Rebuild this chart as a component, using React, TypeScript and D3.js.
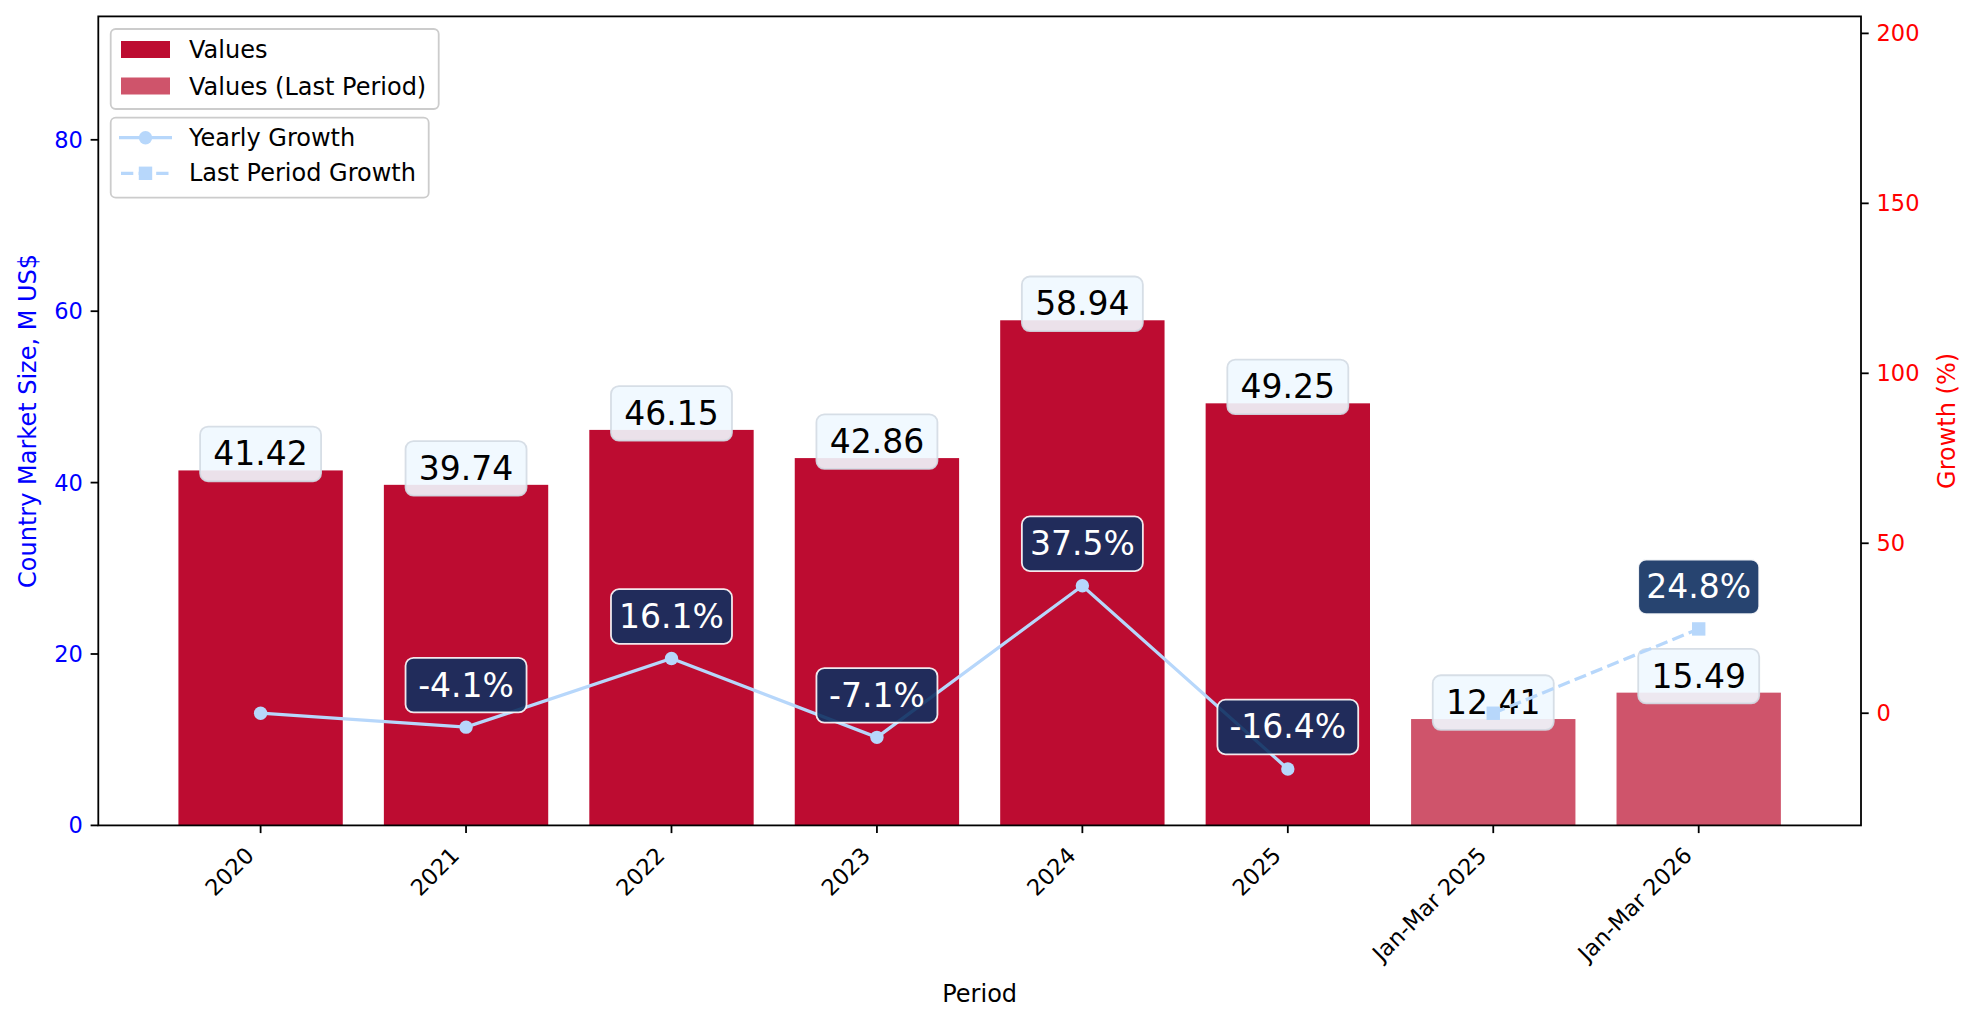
import * as d3 from "d3";

const periods = ["2020", "2021", "2022", "2023", "2024", "2025", "Jan-Mar 2025", "Jan-Mar 2026"];
const marketValues = [41.42, 39.74, 46.15, 42.86, 58.94, 49.25, 12.41, 15.49];
const isLastPeriod = [false, false, false, false, false, false, true, true];
const yearlyGrowth = [0, -4.1, 16.1, -7.1, 37.5, -16.4];
const lastPeriodGrowth = [0, 24.8];
const leftTicks = [0, 20, 40, 60, 80];
const rightTicks = [0, 50, 100, 150, 200];

const W = 1976;
const H = 1025;
const margin = { left: 98.3, right: 1861, top: 16.4, bottom: 825.4 };
const FONT = "DejaVu Sans, sans-serif";

const barColor = "#bd0c31";
const lastBarColor = "#cf546b";
const lineColor = "#b7d7fb";
const growthFill = "#0f3060";
const tickLen = 7.7;
const tickFs = 22.5;
const labelFs = 24;

export default function App() {
  const x = d3
    .scaleLinear()
    .domain([-0.79, periods.length - 1 + 0.79])
    .range([margin.left, margin.right]);
  const yL = d3.scaleLinear().domain([0, 94.4]).range([margin.bottom, margin.top]);
  const yR = d3.scaleLinear().domain([-33, 205]).range([margin.bottom, margin.top]);
  const bw = x(0.4) - x(-0.4);

  const yearlyPts: [number, number][] = yearlyGrowth.map((g, i) => [x(i), yR(g)]);
  const lastPts: [number, number][] = lastPeriodGrowth.map((g, i) => [x(6 + i), yR(g)]);
  const line = d3.line();

  const valueFs = 33;
  const labelBox = (
    cx: number,
    cy: number,
    txt: string,
    fill: string,
    stroke: string,
    color: string,
    key: string,
  ) => {
    const w = txt.length * valueFs * 0.6 + 22;
    const h = valueFs * 1.17 + 16;
    return (
      <g key={key}>
        <rect
          x={cx - w / 2}
          y={cy - h / 2}
          width={w}
          height={h}
          rx={8}
          fill={fill}
          fillOpacity={0.9}
          stroke={stroke}
          strokeOpacity={0.9}
          strokeWidth={1.8}
        />
        <text x={cx} y={cy} textAnchor="middle" dominantBaseline="central" fontSize={valueFs} fill={color}>
          {txt}
        </text>
      </g>
    );
  };

  return (
    <svg width={W} height={H} style={{ position: "absolute", left: 0, top: 0, background: "#fff" }} fontFamily={FONT}>
      {/* bars */}
      {marketValues.map((v, i) => (
        <rect
          key={periods[i]}
          x={x(i) - bw / 2}
          y={yL(v)}
          width={bw}
          height={yL(0) - yL(v)}
          fill={isLastPeriod[i] ? lastBarColor : barColor}
        />
      ))}

      {/* value labels */}
      {marketValues.map((v, i) => labelBox(x(i), yL(v) - 16.5, v.toFixed(2), "#f0f8ff", "#d3dae3", "#000", "v" + i))}

      {/* growth lines */}
      <path d={line(yearlyPts) ?? ""} fill="none" stroke={lineColor} strokeWidth={3.3} />
      {yearlyPts.map(([px, py], i) => (
        <circle key={"c" + i} cx={px} cy={py} r={6.7} fill={lineColor} />
      ))}
      <path d={line(lastPts) ?? ""} fill="none" stroke={lineColor} strokeWidth={3.3} strokeDasharray="12.3 5.3" />
      {lastPts.map(([px, py], i) => (
        <rect key={"s" + i} x={px - 6.7} y={py - 6.7} width={13.4} height={13.4} fill={lineColor} />
      ))}

      {/* growth labels */}
      {yearlyGrowth.map((g, i) =>
        i === 0 ? null : labelBox(x(i), yR(g) - 42, g.toFixed(1) + "%", growthFill, "#ffffff", "#fff", "g" + i),
      )}
      {lastPeriodGrowth.map((g, i) =>
        i === 0 ? null : labelBox(x(6 + i), yR(g) - 42, g.toFixed(1) + "%", growthFill, "#ffffff", "#fff", "lg" + i),
      )}

      {/* frame */}
      <rect
        x={margin.left}
        y={margin.top}
        width={margin.right - margin.left}
        height={margin.bottom - margin.top}
        fill="none"
        stroke="#000"
        strokeWidth={1.8}
      />

      {/* left axis */}
      {leftTicks.map((t) => (
        <g key={"l" + t}>
          <line x1={margin.left - tickLen} x2={margin.left} y1={yL(t)} y2={yL(t)} stroke="#000" strokeWidth={1.8} />
          <text x={margin.left - tickLen - 7.8} y={yL(t)} textAnchor="end" dominantBaseline="central" fontSize={tickFs} fill="#0000ff">
            {t}
          </text>
        </g>
      ))}
      <text
        transform={`translate(28,${(margin.top + margin.bottom) / 2}) rotate(-90)`}
        textAnchor="middle"
        dominantBaseline="central"
        fontSize={labelFs}
        fill="#0000ff"
      >
        Country Market Size, M US$
      </text>

      {/* right axis */}
      {rightTicks.map((t) => (
        <g key={"r" + t}>
          <line x1={margin.right} x2={margin.right + tickLen} y1={yR(t)} y2={yR(t)} stroke="#000" strokeWidth={1.8} />
          <text x={margin.right + tickLen + 7.8} y={yR(t)} textAnchor="start" dominantBaseline="central" fontSize={tickFs} fill="#ff0000">
            {t}
          </text>
        </g>
      ))}
      <text
        transform={`translate(1947,${(margin.top + margin.bottom) / 2}) rotate(-90)`}
        textAnchor="middle"
        dominantBaseline="central"
        fontSize={labelFs}
        fill="#ff0000"
      >
        Growth (%)
      </text>

      {/* x axis */}
      {periods.map((p, i) => (
        <g key={"x" + p}>
          <line x1={x(i)} x2={x(i)} y1={margin.bottom} y2={margin.bottom + tickLen} stroke="#000" strokeWidth={1.8} />
          <text
            transform={`translate(${x(i) - 11},${margin.bottom + tickLen + 18}) rotate(-45)`}
            textAnchor="end"
            dominantBaseline="central"
            fontSize={tickFs}
            fill="#000"
          >
            {p}
          </text>
        </g>
      ))}
      <text x={(margin.left + margin.right) / 2} y={994} textAnchor="middle" dominantBaseline="central" fontSize={labelFs}>
        Period
      </text>

      {/* legends */}
      <g fontSize={labelFs}>
        <rect x={110.7} y={29} width={328} height={80} rx={5} fill="#fff" fillOpacity={0.8} stroke="#cccccc" strokeWidth={1.8} />
        <rect x={121} y={41} width={49} height={17} fill={barColor} />
        <text x={189} y={50} dominantBaseline="central">Values</text>
        <rect x={121} y={77.5} width={49} height={17} fill={lastBarColor} />
        <text x={189} y={86.5} dominantBaseline="central">Values (Last Period)</text>

        <rect x={110.7} y={117.7} width={318} height={80} rx={5} fill="#fff" fillOpacity={0.8} stroke="#cccccc" strokeWidth={1.8} />
        <line x1={119} x2={172} y1={137.7} y2={137.7} stroke={lineColor} strokeWidth={3.3} />
        <circle cx={145.5} cy={137.7} r={6.7} fill={lineColor} />
        <text x={189} y={137.7} dominantBaseline="central">Yearly Growth</text>
        <line x1={121} x2={172} y1={173.3} y2={173.3} stroke={lineColor} strokeWidth={3.3} strokeDasharray="12.3 5.3" />
        <rect x={138.8} y={166.6} width={13.4} height={13.4} fill={lineColor} />
        <text x={189} y={173.3} dominantBaseline="central">Last Period Growth</text>
      </g>
    </svg>
  );
}
